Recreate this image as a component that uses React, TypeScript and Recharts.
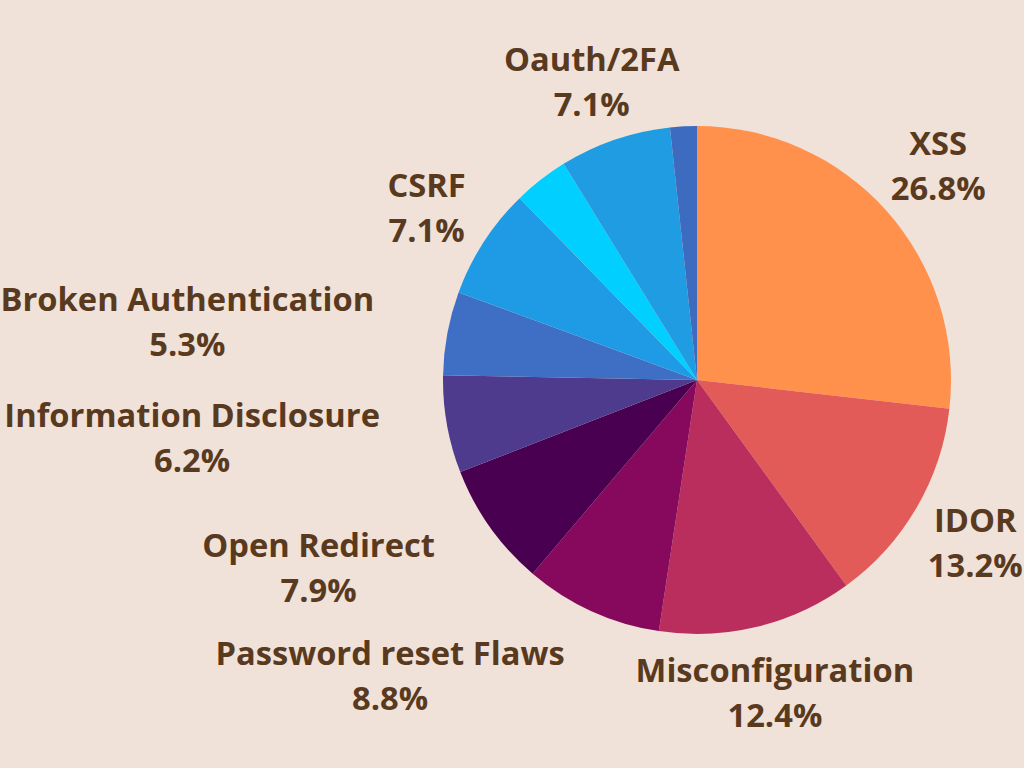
import { PieChart, Pie, Cell } from 'recharts'

const categories = [
  'XSS',
  'IDOR',
  'Misconfiguration',
  'Password reset Flaws',
  'Open Redirect',
  'Information Disclosure',
  'Broken Authentication',
  'CSRF',
  'Other',
  'Oauth/2FA',
  'Other2',
]

const shares = [26.8, 13.2, 12.4, 8.8, 7.9, 6.2, 5.3, 7.1, 3.5, 7.1, 1.7]

// slices without a label in the picture
const hiddenLabels = ['Other', 'Other2']

const colors = [
  '#FF914D',
  '#E25B58',
  '#B92E5C',
  '#86095E',
  '#4A0050',
  '#4E3B8D',
  '#3F6FC5',
  '#1F9BE6',
  '#00CFFF',
  '#209DE2',
  '#3D6BC0',
]

// label placement, polar offset from pie centre (radius px, angle deg)
const labelLayout: Record<string, { r: number; a: number }> = {
  XSS: { r: 323, a: 41.7 },
  IDOR: { r: 322, a: -30.2 },
  Misconfiguration: { r: 322, a: -76 },
  'Password reset Flaws': { r: 426, a: -136.1 },
  'Open Redirect': { r: 422, a: -153.7 },
  'Information Disclosure': { r: 508, a: -173.6 },
  'Broken Authentication': { r: 513, a: 173.4 },
  CSRF: { r: 321, a: 147.4 },
  'Oauth/2FA': { r: 317, a: 109.4 },
}

const data = categories.map((name, i) => ({ name, value: shares[i] }))

const TEXT = '#5A3A1F'

function renderLabel(props: any) {
  const { cx, cy, name, value } = props
  if (hiddenLabels.includes(name)) return null
  const lay = labelLayout[name]
  if (!lay) return null
  const rad = (lay.a * Math.PI) / 180
  const x = cx + lay.r * Math.cos(rad)
  const y = cy - lay.r * Math.sin(rad)
  return (
    <text
      x={x}
      y={y}
      textAnchor="middle"
      fill={TEXT}
      fontFamily="'Open Sans', sans-serif"
      fontWeight={700}
      fontSize={32.7}
    >
      <tspan x={x} dy={-10}>{name}</tspan>
      <tspan x={x} dy={45}>{value.toFixed(1)}%</tspan>
    </text>
  )
}

export default function App() {
  return (
    <div style={{ width: 1024, height: 768, background: '#F0E2D8' }}>
      <style>{`body{margin:0}`}</style>
      <PieChart width={1024} height={768} margin={{ top: 0, right: 0, bottom: 0, left: 0 }}>
        <Pie
          data={data}
          dataKey="value"
          nameKey="name"
          cx={697}
          cy={380}
          outerRadius={254}
          startAngle={90}
          endAngle={-270}
          stroke="none"
          labelLine={false}
          label={renderLabel}
          isAnimationActive={false}
        >
          {data.map((d, i) => (
            <Cell key={d.name} fill={colors[i]} />
          ))}
        </Pie>
      </PieChart>
    </div>
  )
}
